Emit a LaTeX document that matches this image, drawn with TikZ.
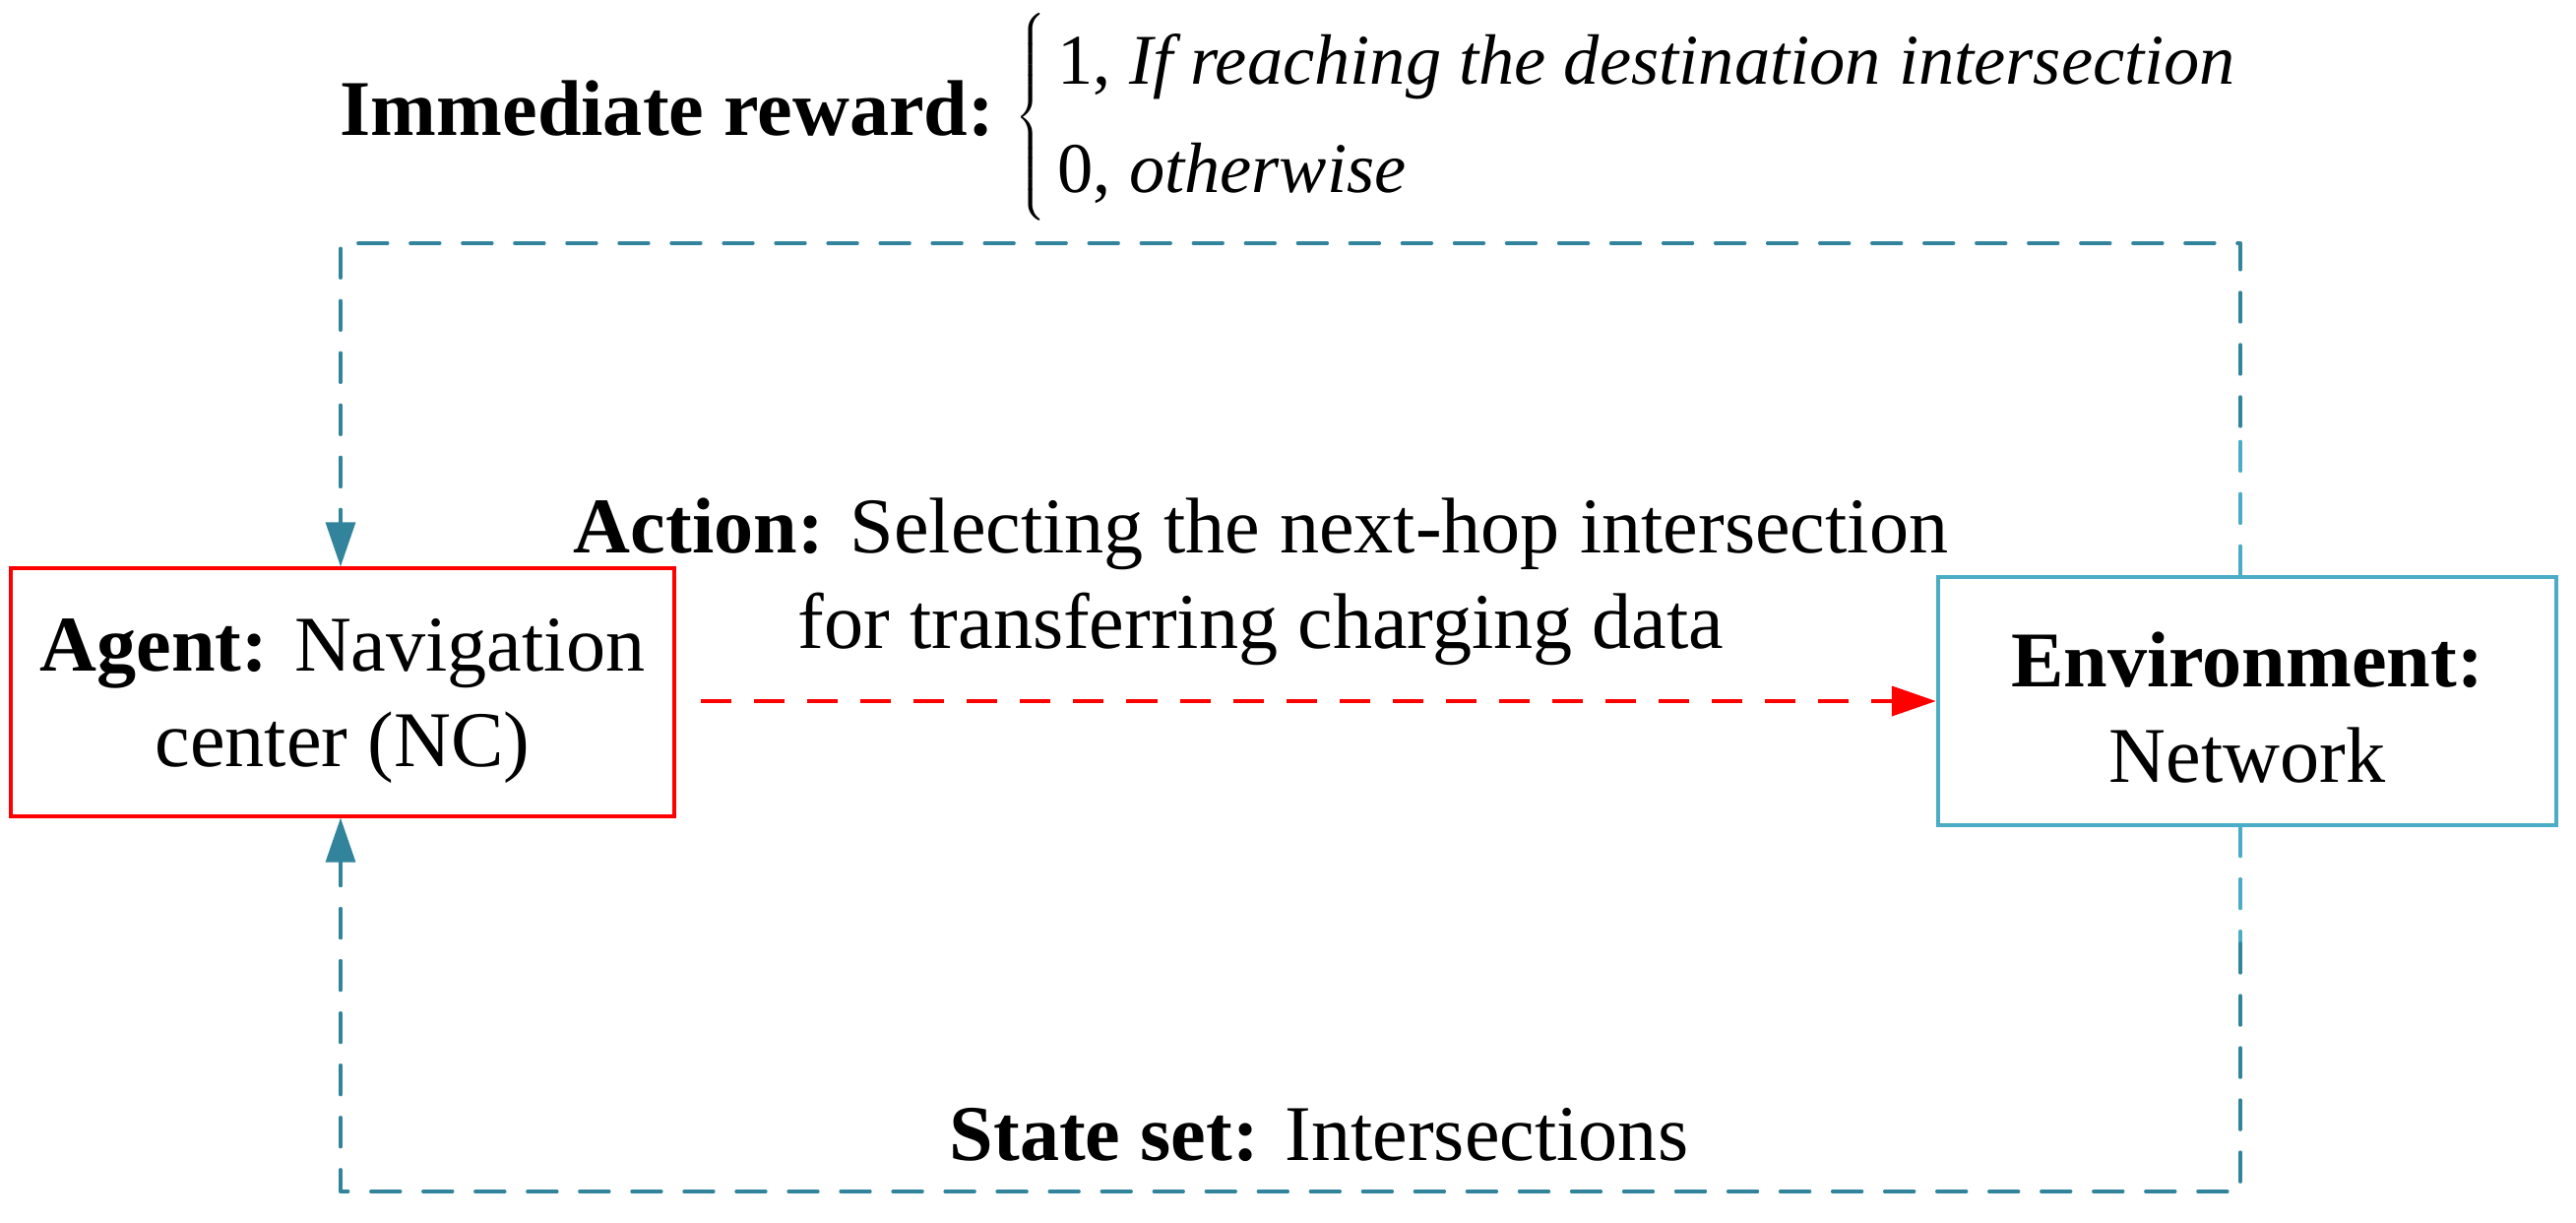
\documentclass[tikz,border=0pt]{standalone}
\usepackage{fontspec}
\setmainfont{Liberation Serif}
\usetikzlibrary{arrows.meta}
\definecolor{teal1}{HTML}{31849B}
\definecolor{aqua1}{HTML}{4BACC6}
\definecolor{red1}{HTML}{FF0000}
\begin{document}
\begin{tikzpicture}[x=0.01cm,y=-0.01cm,
  txt/.style={font=\fontsize{22.8}{27.6}\selectfont, align=center, inner sep=0pt},
  agentbox/.style={txt, draw=red1, line width=1.15pt, minimum width=6.74cm, minimum height=2.51cm},
  envbox/.style={txt, draw=aqua1, line width=1.15pt, minimum width=6.28cm, minimum height=2.51cm},
  loopline/.style={draw=teal1, line width=0.95pt, line cap=round, line join=round, dash pattern=on 0.30cm off 0.23cm},
  envline/.style={loopline, draw=aqua1},
  actline/.style={draw=red1, line width=1.15pt, dash pattern=on 0.31cm off 0.23cm},
  tip/.style={-{Triangle[length=0.45cm,width=0.3cm]}}
]
\useasboundingbox (0,0) rectangle (2617,1242);

\node[agentbox] (agent) at (348,703) {\rule{0pt}{0.71cm}\textbf{Agent:} Navigation\\center (NC)};
\node[envbox] (env) at (2283,712) {\rule{0pt}{0.68cm}\textbf{Environment:}\\Network};

\node[txt] (action) at (1281,591) {\textbf{Action:} Selecting the next-hop intersection\\for transferring charging data};
\node[txt, anchor=base] (state) at (1340,1178) {\textbf{State set:} Intersections};
\node[inner sep=0pt, anchor=base west] (reward) at (345,137)
  {{\fontsize{22.8}{27.6}\selectfont\textbf{Immediate reward:}}\hspace{0.22cm}{\fontsize{20.6}{31.3}\selectfont\delimiterfactor=1000 \delimitershortfall=0pt$\left\{\vcenter{\hbox{\rule{0pt}{1.9cm}}}\right.\kern-0.05cm\begin{tabular}{@{}l@{}}1, \textit{If reaching the destination intersection}\\0, \textit{otherwise}\end{tabular}$}};

\coordinate (tl) at (346,247);
\coordinate (tr) at (2276,247);
\coordinate (bl) at (346,1210);
\coordinate (br) at (2276,1210);
\coordinate (tru) at (2276,433);
\coordinate (brd) at (2276,958);

\draw[envline] (env.north -| tr) -- (tru);
\draw[loopline, tip] (tru) -- (tr) -- (tl) -- (agent.north -| tl);
\draw[envline] (env.south -| br) -- (brd);
\draw[loopline, tip] (brd) -- (br) -- (bl) -- (agent.south -| bl);
\draw[actline, tip, shorten <=0.25cm] (agent.east |- env.west) -- (env.west);
\end{tikzpicture}
\end{document}
